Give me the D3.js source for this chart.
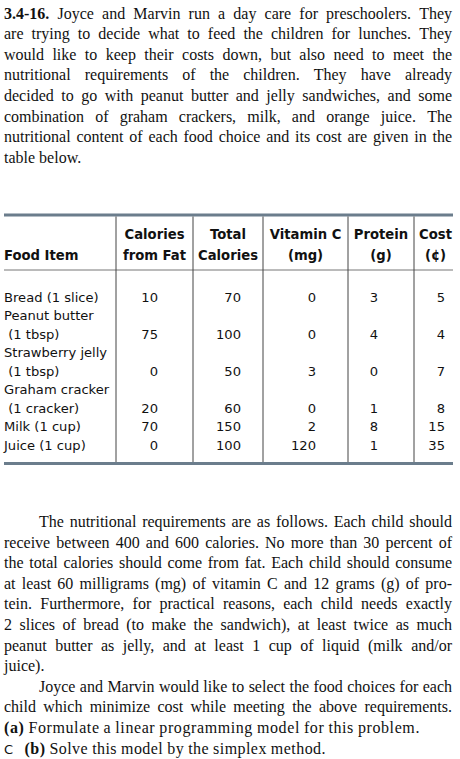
<!DOCTYPE html>
<html>
<head>
<meta charset="utf-8">
<script src="https://cdn.jsdelivr.net/npm/d3@7"></script>
<style>
  body { margin: 0; background: #fff; }
</style>
</head>
<body>
<div id="graf"></div>
<script>
// I. Datos
const foods = ['Bread (1 slice)', 'Peanut butter\n(1 tbsp)', 'Strawberry jelly\n(1 tbsp)',
               'Graham cracker\n(1 cracker)', 'Milk (1 cup)', 'Juice (1 cup)']
const caloriesFat   = [10, 75, 0, 20, 70, 0]
const totalCalories = [70, 100, 50, 60, 150, 100]
const vitaminC      = [0, 0, 3, 0, 2, 120]
const protein       = [3, 4, 0, 1, 8, 1]
const cost          = [5, 4, 7, 8, 15, 35]
const headers = [['', 'Food Item'], ['Calories', 'from Fat'], ['Total', 'Calories'],
                 ['Vitamin C', '(mg)'], ['Protein', '(g)'], ['Cost', '(¢)']]

const intro = [
  '**3.4-16.** Joyce and Marvin run a day care for preschoolers. They',
  'are trying to decide what to feed the children for lunches. They',
  'would like to keep their costs down, but also need to meet the',
  'nutritional requirements of the children. They have already',
  'decided to go with peanut butter and jelly sandwiches, and some',
  'combination of graham crackers, milk, and orange juice. The',
  'nutritional content of each food choice and its cost are given in the',
  'table below.'
]
const requirements = [
  'The nutritional requirements are as follows. Each child should',
  'receive between 400 and 600 calories. No more than 30 percent of',
  'the total calories should come from fat. Each child should consume',
  'at least 60 milligrams (mg) of vitamin C and 12 grams (g) of pro-',
  'tein. Furthermore, for practical reasons, each child needs exactly',
  '2 slices of bread (to make the sandwich), at least twice as much',
  'peanut butter as jelly, and at least 1 cup of liquid (milk and/or',
  'juice).'
]
const goal = [
  'Joyce and Marvin would like to select the food choices for each',
  'child which minimize cost while meeting the above requirements.'
]
const parts = [
  '**(a)** Formulate a linear programming model for this problem.',
  '##C **(b)** Solve this model by the simplex method.'
]

// II. Configuración
const ancho = 460, alto = 759
const left = 4, right = 452
const lh = 20.6
const serif = '"Liberation Serif", "Times New Roman", serif'
const sans = '"DejaVu Sans", sans-serif'

const svg = d3.select('#graf').append('svg')
  .attr('width', ancho).attr('height', alto)

// una línea de texto: justificada (justify = true), natural (false)
// o estirada hasta un borde derecho dado (número)
function linea(words, x0, y, justify) {
  const g = svg.append('g')
  const icons = []
  const nodes = words.map(w => {
    let t = w, bold = false, icon = false
    if (t.startsWith('**')) { t = t.replace(/\*\*/g, ''); bold = true }
    if (t.startsWith('##')) { t = t.slice(2); icon = true }
    icons.push(icon)
    return g.append('text')
      .attr('y', y)
      .style('font-family', icon ? sans : serif)
      .style('font-size', icon ? '13px' : '16px')
      .style('font-weight', bold ? 'bold' : 'normal')
      .style('fill', '#111')
      .text(t)
  })
  const place = gap => {
    let x = x0
    nodes.forEach((n, i) => {
      n.attr('x', x)
      x += n.node().getComputedTextLength() + gap + (icons[i] ? 7 : 0)
    })
  }
  const widths = nodes.map(n => n.node().getComputedTextLength())
  if (justify === true) {
    place((right - x0 - d3.sum(widths)) / (words.length - 1))
  } else if (typeof justify === 'number') {
    // estirar con espaciado entre letras; se corrige midiendo la caja
    const chars = d3.sum(nodes, n => n.text().length)
    let ls = 0
    for (let k = 0; k < 3; k++) {
      nodes.forEach(n => n.style('letter-spacing', ls + 'px'))
      place(4)
      const b = g.node().getBBox()
      ls += (justify - (b.x + b.width)) / chars
    }
    nodes.forEach(n => n.style('letter-spacing', ls + 'px'))
    place(4)
  } else {
    place(4)
  }
}

function parrafo(lines, y0, indent, lastJustified) {
  lines.forEach((l, i) => {
    const justify = i < lines.length - 1 || lastJustified
    linea(l.split(' '), left + (i === 0 ? indent : 0), y0 + i * lh, justify)
  })
}

parrafo(intro, 18.5, 0, false)
parrafo(requirements, 527, 35, false)
parrafo(goal, 527 + 8 * lh, 35, true)
linea(parts[0].split(' '), left, 527 + 10 * lh, 420)
linea(parts[1].split(' '), left, 527 + 11 * lh, 326)

// III. Tabla
const colEdges = [4, 116, 193, 263, 348, 414, 453]
const tableTop = 215, headRule = 270, tableBottom = 463.5
const fsBody = '13.1px', fsHead = '13.2px'

// líneas de texto de cada alimento
let idx = 0
const foodLines = foods.map(f => {
  const p = f.split('\n')
  const start = idx
  idx += p.length
  return { parts: p, start, last: idx - 1 }
})

const y = d3.scaleLinear().domain([0, idx - 1]).range([301.5, 450])
const columns = [caloriesFat, totalCalories, vitaminC, protein, cost]
const xNum = d3.scaleOrdinal().domain(d3.range(columns.length)).range([158, 241, 316, 378, 445])

// reglas
svg.selectAll('line.rule')
  .data([[tableTop, '#6b7d8c', 3], [headRule, '#777', 1], [tableBottom, '#6b7d8c', 3]])
  .enter().append('line')
  .attr('class', 'rule')
  .attr('x1', colEdges[0]).attr('x2', colEdges[6])
  .attr('y1', d => d[0]).attr('y2', d => d[0])
  .style('stroke', d => d[1]).style('stroke-width', d => d[2])

svg.selectAll('line.col')
  .data(colEdges.slice(1, -1))
  .enter().append('line')
  .attr('class', 'col')
  .attr('x1', d => d).attr('x2', d => d)
  .attr('y1', tableTop + 1.5).attr('y2', tableBottom - 1.5)
  .style('stroke', '#444').style('stroke-width', 1)

// encabezados
headers.forEach((h, i) => {
  const cx = i === 0 ? colEdges[0] : (colEdges[i] + colEdges[i + 1]) / 2 + (i === 5 ? 2 : 0)
  h.forEach((t, j) => {
    svg.append('text')
      .attr('x', cx).attr('y', 238.5 + j * 21.5)
      .attr('text-anchor', i === 0 ? 'start' : 'middle')
      .style('font-family', sans).style('font-size', fsHead).style('font-weight', 'bold')
      .style('fill', '#111')
      .text(t)
  })
})

// nombres de alimentos
foodLines.forEach(f => {
  f.parts.forEach((p, j) => {
    svg.append('text')
      .attr('x', colEdges[0])
      .attr('y', y(f.start + j))
      .style('font-family', sans).style('font-size', fsBody)
      .style('fill', '#111')
      .style('white-space', 'pre')
      .text(j > 0 ? ' ' + p : p)
  })
})

// valores
columns.forEach((col, c) => {
  svg.selectAll('text.c' + c)
    .data(col)
    .enter().append('text')
    .attr('class', 'c' + c)
    .attr('x', xNum(c))
    .attr('y', (d, i) => y(foodLines[i].last))
    .attr('text-anchor', 'end')
    .style('font-family', sans).style('font-size', fsBody)
    .style('fill', '#111')
    .text(d => d)
})
</script>
</body>
</html>
